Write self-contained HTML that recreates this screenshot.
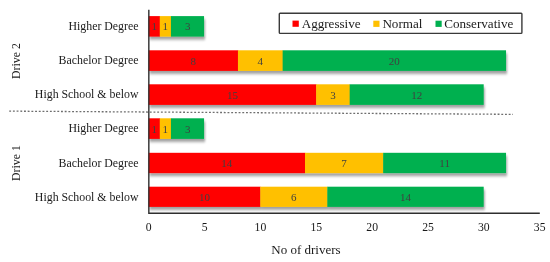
<!DOCTYPE html>
<html><head><meta charset="utf-8"><title>No of drivers</title>
<style>
html,body{margin:0;padding:0;background:#fff;}
#c{position:relative;width:550px;height:262px;overflow:hidden;background:#fff;font-family:"Liberation Serif",serif;color:#1a1a1a;}
#c div{position:absolute;white-space:nowrap;}
.v{font-size:11px;line-height:12px;color:#404040;text-align:center;transform:translateX(-50%);}
.cat{font-size:11.85px;line-height:14px;text-align:right;right:411.5px;}
.tk{font-size:11.7px;line-height:14px;top:221.1px;transform:translateX(-50%);}
.lg{font-size:13.1px;line-height:15px;top:16px;}
.rot{font-size:11.85px;line-height:14px;transform:translate(-50%,-50%) rotate(-90deg);left:15.8px;}
svg{position:absolute;left:0;top:0;}
</style></head><body><div id="c">
<svg width="550" height="262" viewBox="0 0 550 262">
<defs><filter id="sh" x="-5%" y="-5%" width="110%" height="115%" filterUnits="objectBoundingBox">
<feGaussianBlur in="SourceAlpha" stdDeviation="0.9 1.8" result="b"/>
<feOffset in="b" dx="0.5" dy="2.8" result="o"/>
<feComponentTransfer in="o" result="s"><feFuncA type="linear" slope="0.38"/></feComponentTransfer>
<feMerge><feMergeNode in="s"/><feMergeNode in="SourceGraphic"/></feMerge>
</filter></defs>
<g filter="url(#sh)">
<rect x="148.60" y="16.1" width="11.47" height="20.50" fill="#ff0000"/>
<rect x="159.77" y="16.1" width="11.47" height="20.50" fill="#ffc000"/>
<rect x="170.94" y="16.1" width="33.11" height="20.50" fill="#00b050"/>
<rect x="148.60" y="50.3" width="89.66" height="20.60" fill="#ff0000"/>
<rect x="237.96" y="50.3" width="44.98" height="20.60" fill="#ffc000"/>
<rect x="282.64" y="50.3" width="223.40" height="20.60" fill="#00b050"/>
<rect x="148.60" y="84.3" width="167.85" height="20.60" fill="#ff0000"/>
<rect x="316.15" y="84.3" width="33.81" height="20.60" fill="#ffc000"/>
<rect x="349.66" y="84.3" width="134.04" height="20.60" fill="#00b050"/>
<rect x="148.60" y="118.3" width="11.47" height="20.60" fill="#ff0000"/>
<rect x="159.77" y="118.3" width="11.47" height="20.60" fill="#ffc000"/>
<rect x="170.94" y="118.3" width="33.11" height="20.60" fill="#00b050"/>
<rect x="148.60" y="152.8" width="156.68" height="20.30" fill="#ff0000"/>
<rect x="304.98" y="152.8" width="78.49" height="20.30" fill="#ffc000"/>
<rect x="383.17" y="152.8" width="122.87" height="20.30" fill="#00b050"/>
<rect x="148.60" y="186.7" width="112.00" height="20.20" fill="#ff0000"/>
<rect x="260.30" y="186.7" width="67.32" height="20.20" fill="#ffc000"/>
<rect x="327.32" y="186.7" width="156.38" height="20.20" fill="#00b050"/>
</g>
<line x1="9.2" y1="111.15" x2="513" y2="114.35" stroke="#6e6e6e" stroke-width="1.3" stroke-dasharray="1.9 1.8"/>
<path d="M148.83 9.85 V213.25 H539.8" fill="none" stroke="#2e2e2e" stroke-width="1.4"/>
<rect x="279.3" y="13.3" width="242.6" height="20.1" rx="0.8" fill="#fff" stroke="#3a3a3a" stroke-width="1.4"/>
<rect x="292.5" y="20.6" width="6.3" height="6.2" fill="#ff0000"/>
<rect x="373.3" y="20.7" width="6.2" height="6.2" fill="#ffc000"/>
<rect x="435.5" y="20.7" width="6.2" height="6.2" fill="#00b050"/>
</svg>
<div class="v" style="left:154.19px;top:20.35px;">1</div>
<div class="v" style="left:165.35px;top:20.35px;">1</div>
<div class="v" style="left:187.69px;top:20.35px;">3</div>
<div class="cat" style="top:19.15px;">Higher Degree</div>
<div class="v" style="left:193.28px;top:54.60px;">8</div>
<div class="v" style="left:260.30px;top:54.60px;">4</div>
<div class="v" style="left:394.34px;top:54.60px;">20</div>
<div class="cat" style="top:53.40px;">Bachelor Degree</div>
<div class="v" style="left:232.38px;top:88.60px;">15</div>
<div class="v" style="left:332.90px;top:88.60px;">3</div>
<div class="v" style="left:416.68px;top:88.60px;">12</div>
<div class="cat" style="top:87.40px;">High School &amp; below</div>
<div class="v" style="left:154.19px;top:122.60px;">1</div>
<div class="v" style="left:165.35px;top:122.60px;">1</div>
<div class="v" style="left:187.69px;top:122.60px;">3</div>
<div class="cat" style="top:121.40px;">Higher Degree</div>
<div class="v" style="left:226.79px;top:156.95px;">14</div>
<div class="v" style="left:344.07px;top:156.95px;">7</div>
<div class="v" style="left:444.61px;top:156.95px;">11</div>
<div class="cat" style="top:155.75px;">Bachelor Degree</div>
<div class="v" style="left:204.45px;top:190.80px;">10</div>
<div class="v" style="left:293.81px;top:190.80px;">6</div>
<div class="v" style="left:405.51px;top:190.80px;">14</div>
<div class="cat" style="top:189.60px;">High School &amp; below</div>
<div class="tk" style="left:148.75px;">0</div>
<div class="tk" style="left:204.60px;">5</div>
<div class="tk" style="left:260.45px;">10</div>
<div class="tk" style="left:316.30px;">15</div>
<div class="tk" style="left:372.15px;">20</div>
<div class="tk" style="left:428.00px;">25</div>
<div class="tk" style="left:483.85px;">30</div>
<div class="tk" style="left:539.70px;">35</div>
<div style="font-size:13px;line-height:15px;left:271.3px;top:242.2px;">No of drivers</div>
<div class="lg" style="left:301.7px;">Aggressive</div>
<div class="lg" style="left:382.4px;">Normal</div>
<div class="lg" style="left:444.2px;">Conservative</div>
<div class="rot" style="top:60.5px;">Drive 2</div>
<div class="rot" style="top:162.5px;">Drive 1</div>
</div></body></html>
